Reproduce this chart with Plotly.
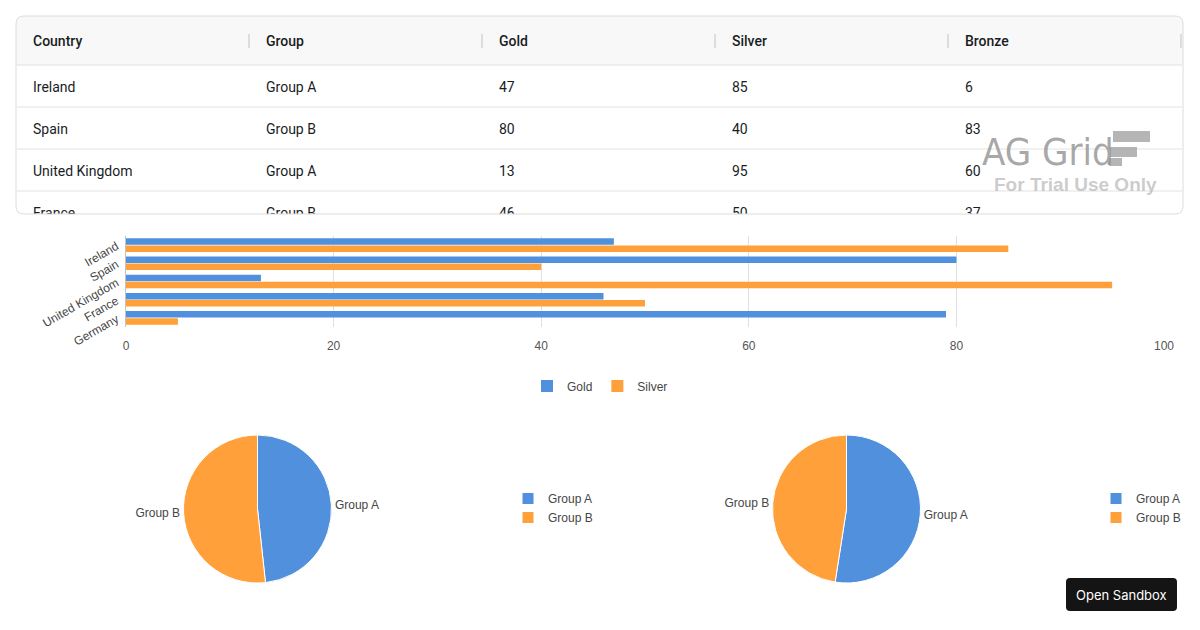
import plotly.graph_objects as go

W, H = 1200, 630

# ---- data ----
countries = ["Ireland", "Spain", "United Kingdom", "France", "Germany"]
groups = ["Group A", "Group B", "Group A", "Group B", "Group A"]
gold = [47, 80, 13, 46, 79]
silver = [85, 40, 95, 50, 5]
bronze = [6, 83, 60, 37, 46]
columns = ["Country", "Group", "Gold", "Silver", "Bronze"]
pie_groups = ["Group A", "Group B"]
x_ticks = [0, 20, 40, 60, 80, 100]

BLUE, ORANGE = "#5090dc", "#ffa03a"
TXT = "#464646"
CHART_FONT = "Liberation Sans, Arial, sans-serif"
GRID_FONT = "Roboto, sans-serif"


def px(x):
    return x / W


def py(y):
    return 1 - y / H


def group_sum(vals, g):
    return sum(v for v, gg in zip(vals, groups) if gg == g)


fig = go.Figure()

# ---- table ----
fig.add_trace(go.Table(
    domain=dict(x=[px(16), px(1183)], y=[py(214), py(27)]),
    columnwidth=[9, 233, 233, 233, 233, 226],
    header=dict(
        values=[""] + columns,
        fill_color="rgba(0,0,0,0)",
        line=dict(color="rgba(0,0,0,0)", width=0),
        align="left",
        height=46,
        font=dict(family=GRID_FONT, size=14, color="#181d1f", weight=500),
    ),
    cells=dict(
        values=[[""] * len(countries), countries, groups, gold, silver, bronze],
        fill_color="rgba(0,0,0,0)",
        line=dict(color="rgba(0,0,0,0)", width=0),
        align="left",
        height=42,
        font=dict(family=GRID_FONT, size=14, color="#181d1f"),
    ),
))

# ---- bar chart ----
fig.add_trace(go.Bar(y=countries, x=gold, name="Gold", orientation="h",
                     marker=dict(color=BLUE, line=dict(width=0)), legend="legend"))
fig.add_trace(go.Bar(y=countries, x=silver, name="Silver", orientation="h",
                     marker=dict(color=ORANGE, line=dict(width=0)), legend="legend"))

# ---- pies ----
pie1_vals = [group_sum(bronze, g) for g in pie_groups]
pie2_vals = [group_sum(gold, g) for g in pie_groups]
pie2_labels = [g + "\u200b" for g in pie_groups]  # separate legend entries
for labels, vals, dom_x, leg in [(pie_groups, pie1_vals, [px(60), px(455)], "legend2"),
                                 (pie2_labels, pie2_vals, [px(649), px(1044)], "legend3")]:
    fig.add_trace(go.Pie(
        labels=labels, values=vals, sort=False, direction="clockwise",
        rotation=0,
        domain=dict(x=dom_x, y=[py(583), py(435)]),
        marker=dict(colors=[BLUE, ORANGE], line=dict(color="white", width=1)),
        textinfo="label", textposition="outside",
        textfont=dict(family=CHART_FONT, size=12, color=TXT),
        legend=leg, showlegend=True,
    ))


def rrect(x0, y0, x1, y1, r, top_only=False):
    X0, X1 = px(x0), px(x1)
    Y0, Y1 = py(y0), py(y1)
    rx, ry = r / W, r / H
    if top_only:
        return (f"M{X0+rx},{Y0} L{X1-rx},{Y0} Q{X1},{Y0} {X1},{Y0-ry} "
                f"L{X1},{Y1} L{X0},{Y1} L{X0},{Y0-ry} Q{X0},{Y0} {X0+rx},{Y0} Z")
    return (f"M{X0+rx},{Y0} L{X1-rx},{Y0} Q{X1},{Y0} {X1},{Y0-ry} "
            f"L{X1},{Y1+ry} Q{X1},{Y1} {X1-rx},{Y1} L{X0+rx},{Y1} "
            f"Q{X0},{Y1} {X0},{Y1+ry} L{X0},{Y0-ry} Q{X0},{Y0} {X0+rx},{Y0} Z")


shapes = []
# header background
shapes.append(dict(type="path", xref="paper", yref="paper", path=rrect(16, 16, 1183, 65, 8, True),
                   line=dict(width=0), fillcolor="#f8f8f8", layer="below"))
# table border
shapes.append(dict(type="path", xref="paper", yref="paper", path=rrect(16, 16, 1183, 214, 8),
                   line=dict(color="#dcdcdc", width=1), fillcolor="rgba(0,0,0,0)"))
# row separators
for yy in [65, 107, 149, 191]:
    shapes.append(dict(type="line", xref="paper", yref="paper", x0=px(17), x1=px(1182),
                       y0=py(yy), y1=py(yy), line=dict(color="#e2e2e2", width=1)))
# header column separators
for xx in [249, 482, 715, 948, 1181]:
    shapes.append(dict(type="line", xref="paper", yref="paper", x0=px(xx), x1=px(xx),
                       y0=py(34), y1=py(48), line=dict(color="#dddddd", width=2)))
# watermark logo bars
for (x0, y0, x1, y1) in [(1113, 131, 1150, 142), (1110, 147, 1137, 157), (1109, 158, 1122, 166)]:
    shapes.append(dict(type="rect", xref="paper", yref="paper", x0=px(x0), x1=px(x1),
                       y0=py(y1), y1=py(y0), line=dict(width=0), fillcolor="rgba(150,150,150,0.7)"))
# sandbox button
shapes.append(dict(type="path", xref="paper", yref="paper", path=rrect(1066, 578, 1177, 611, 4),
                   line=dict(width=0), fillcolor="#141414"))

annotations = [
    dict(text="AG Grid", x=px(980), y=py(152), xref="paper", yref="paper", xanchor="left",
         yanchor="middle", showarrow=False,
         font=dict(family="Liberation Sans Narrow, DejaVu Sans Condensed, Roboto, sans-serif",
                   size=38, weight=500, color="rgba(140,140,140,0.75)")),
    dict(text="<b>For Trial Use Only</b>", x=px(992), y=py(184), xref="paper", yref="paper",
         xanchor="left", yanchor="middle", showarrow=False,
         font=dict(family=CHART_FONT, size=19, color="rgba(170,170,170,0.6)")),
    dict(text="Open Sandbox", x=px(1121.5), y=py(594.5), xref="paper", yref="paper",
         xanchor="center", yanchor="middle", showarrow=False,
         font=dict(family="Inter, sans-serif", size=13, color="white")),
]

fig.update_layout(
    width=W, height=H,
    margin=dict(l=0, r=0, t=0, b=0, autoexpand=False),
    paper_bgcolor="white", plot_bgcolor="white",
    barmode="group", bargap=0.22, bargroupgap=0.08,
    font=dict(family=CHART_FONT, size=12, color=TXT),
    xaxis=dict(domain=[px(126), px(1164)], range=[0, 100], tickvals=x_ticks,
               showgrid=True, gridcolor="#e0e0e0", gridwidth=1, zeroline=False,
               showline=False, ticks="outside", ticklen=8, tickcolor="rgba(0,0,0,0)",
               tickfont=dict(family=CHART_FONT, size=12, color="#555555"),
               anchor="y", fixedrange=True, automargin=False),
    yaxis=dict(domain=[py(327), py(236)], autorange="reversed", type="category",
               categoryorder="array", categoryarray=countries,
               showline=True, linecolor="#c3c3c3", linewidth=1, showgrid=False,
               tickangle=-30, ticks="outside", ticklen=6, tickcolor="rgba(0,0,0,0)",
               tickfont=dict(family=CHART_FONT, size=12, color=TXT), fixedrange=True,
               automargin=False),
    legend=dict(orientation="h", x=0.5, xanchor="center", y=py(386), yanchor="middle",
                font=dict(family=CHART_FONT, size=12, color=TXT), itemclick=False),
    legend2=dict(orientation="v", x=px(508), xanchor="left", y=py(508), yanchor="middle",
                 font=dict(family=CHART_FONT, size=12, color=TXT)),
    legend3=dict(orientation="v", x=px(1096), xanchor="left", y=py(508), yanchor="middle",
                 font=dict(family=CHART_FONT, size=12, color=TXT)),
    shapes=shapes,
    annotations=annotations,
)

fig.write_html(
    "out.html",
    config={"displayModeBar": False},
    post_script="document.body.style.margin='0';document.body.style.overflow='hidden';",
)
